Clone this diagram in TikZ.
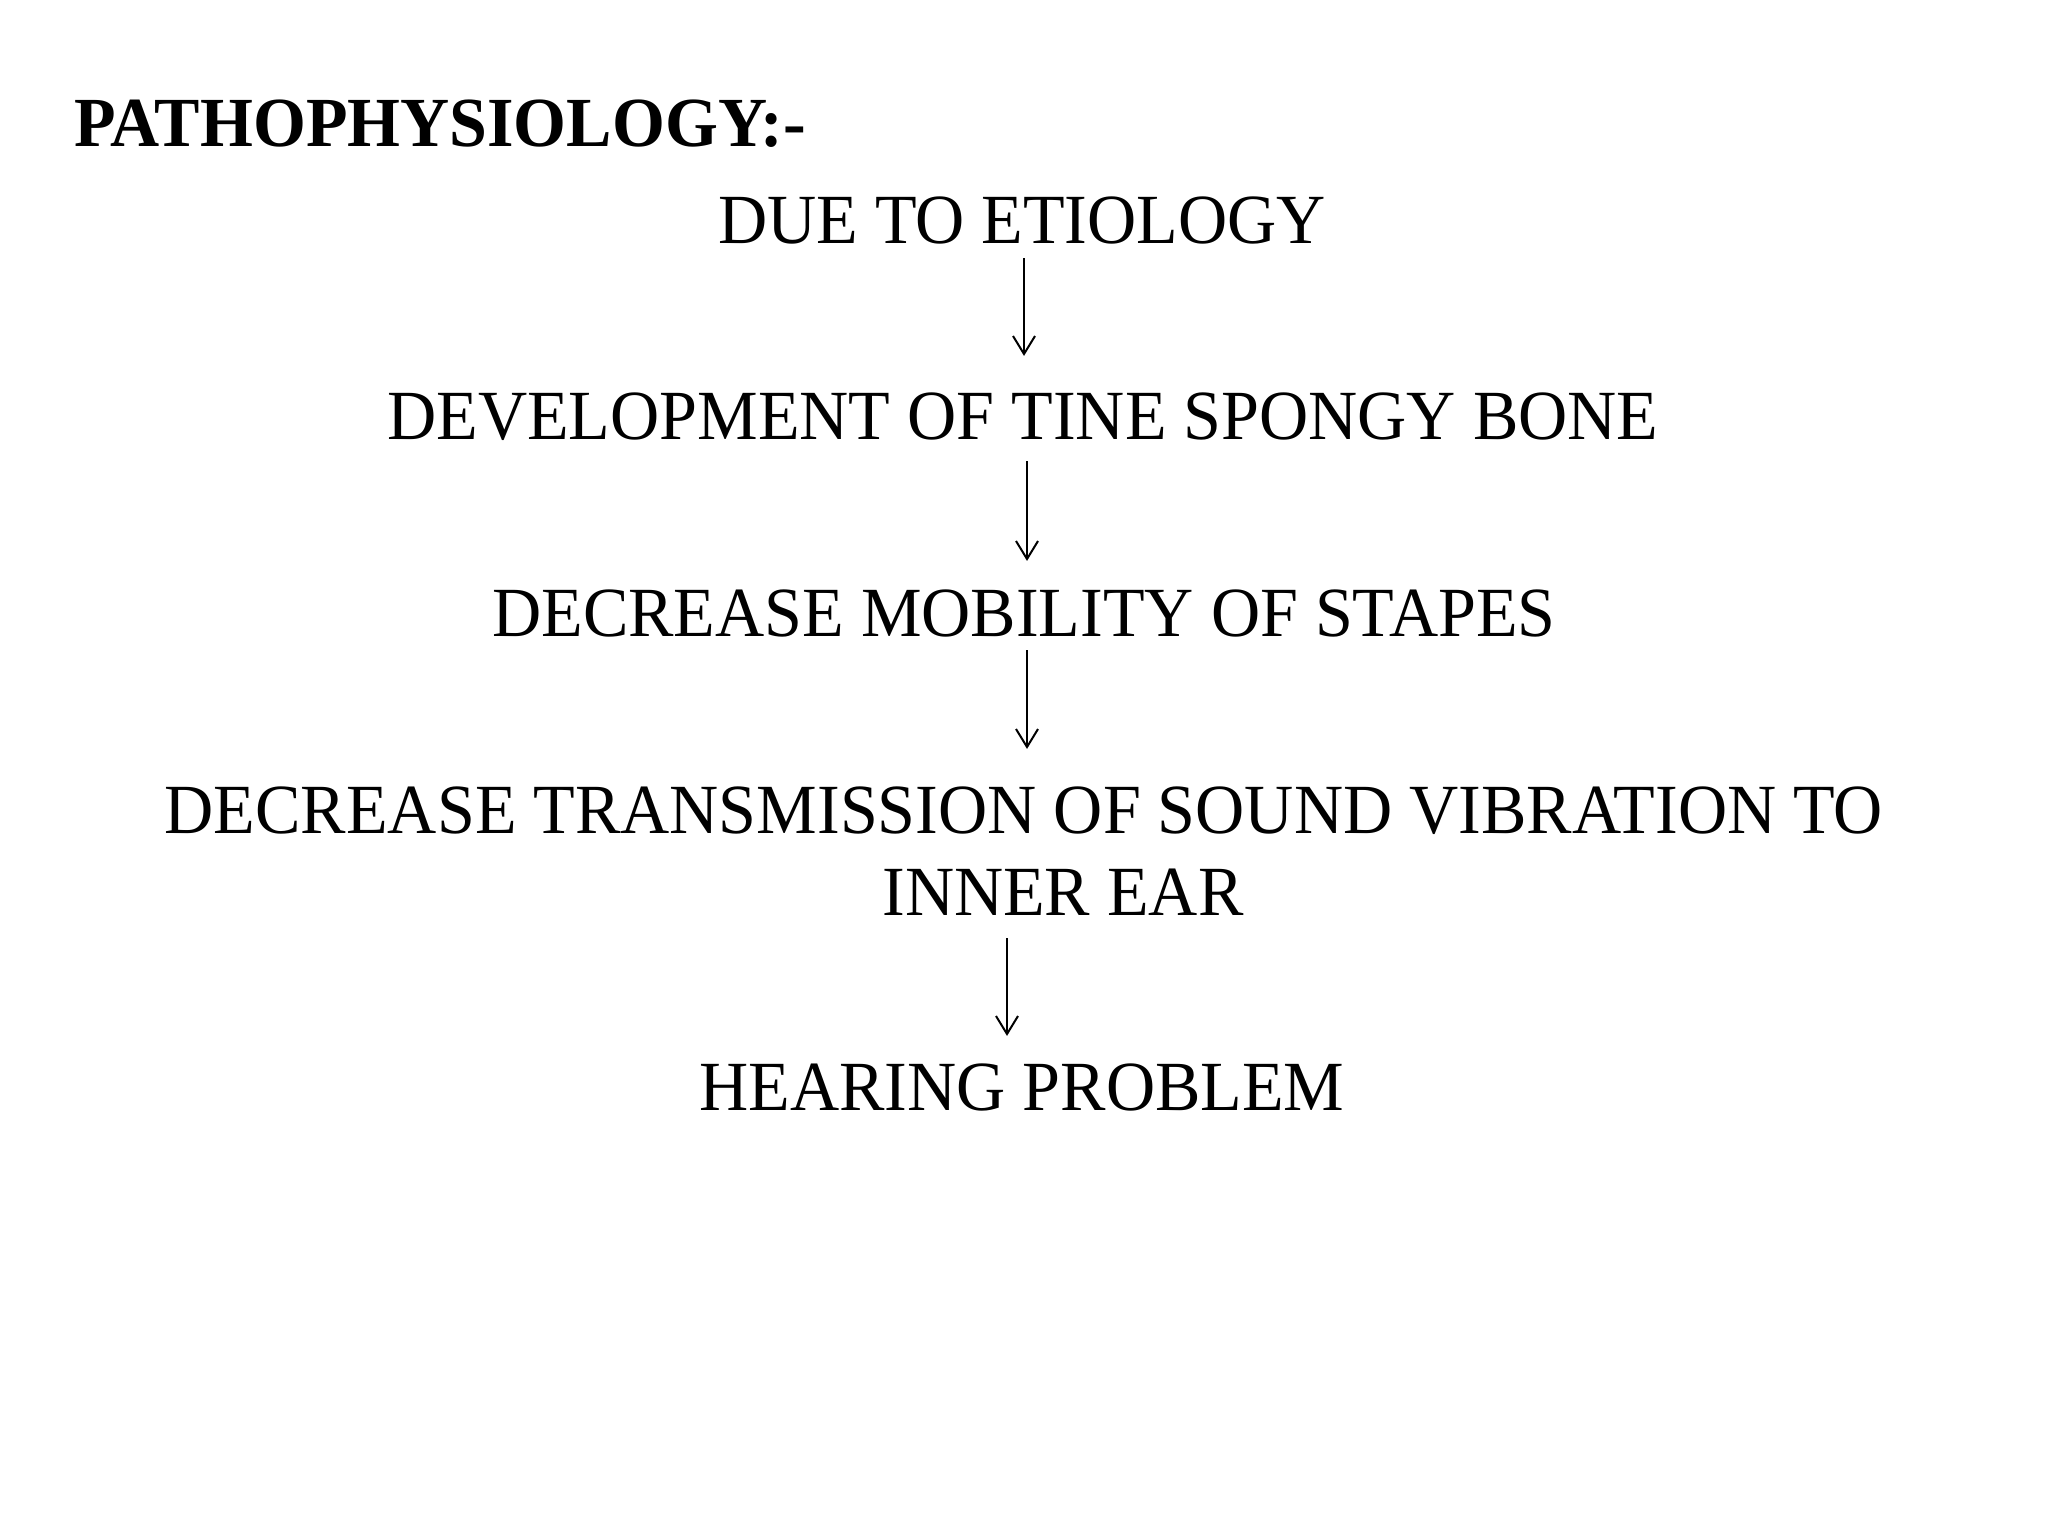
\documentclass[tikz,border=0pt]{standalone}
\usepackage{fontspec}
\setmainfont{Liberation Serif}[FakeStretch=0.966]
\usetikzlibrary{arrows.meta}
\begin{document}
\begin{tikzpicture}[x=0.5pt,y=-0.5pt,
  txt/.style={inner sep=0pt, anchor=base, font=\fontsize{35.25pt}{41pt}\selectfont},
  ttl/.style={inner sep=0pt, anchor=base west, font=\bfseries\fontsize{35.2pt}{41pt}\selectfont},
  arr/.style={-{Straight Barb[length=9pt,width=11pt]}, line width=1pt}]
\path[use as bounding box, fill=white] (0,0) rectangle (2048,1536);
\node[ttl] (title) at (74,146) {PATHOPHYSIOLOGY:-};
\node[txt] (due) at (1022,243) {DUE TO ETIOLOGY};
\node[txt] (dev) at (1023,439) {DEVELOPMENT OF TINE SPONGY BONE};
\node[txt] (mob) at (1024,636) {DECREASE MOBILITY OF STAPES};
\node[txt, align=center] (trans) at (1024,915) {DECREASE TRANSMISSION OF SOUND VIBRATION TO\\\hspace*{39pt}INNER EAR};
\node[txt] (hear) at (1022,1110) {HEARING PROBLEM};
\draw[arr] ([xshift=1pt,yshift=-7pt]due.south) -- ([xshift=0.5pt,yshift=18pt]dev.north);
\draw[arr] ([xshift=2pt,yshift=-10.5pt]dev.south) -- ([xshift=1.5pt,yshift=14pt]mob.north);
\draw[arr] ([xshift=1.5pt,yshift=-6.5pt]mob.south) -- ([xshift=1.5pt,yshift=18.5pt]trans.north);
\draw[arr] ([xshift=-8.5pt,yshift=-11.5pt]trans.south) -- ([xshift=-7.5pt,yshift=13.5pt]hear.north);
\end{tikzpicture}
\end{document}
